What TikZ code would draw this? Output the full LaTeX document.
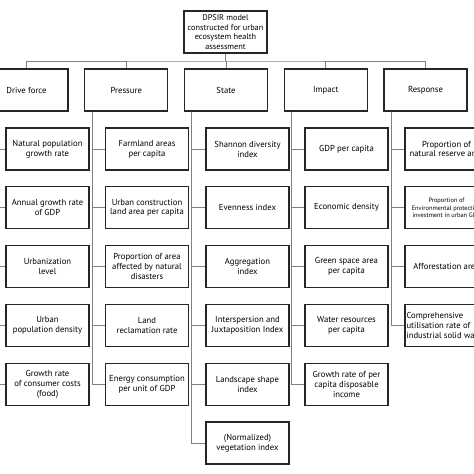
\documentclass[tikz,border=0pt]{standalone}
\usepackage{fontspec}
\setmainfont{PT Sans}
\newcommand{\wideline}[2][c]{\makebox[80bp][#1]{#2}}

\begin{document}
\begin{tikzpicture}[x=1bp,y=-1bp]
    \tikzstyle{box}=[draw=black!85,line width=1.2bp,minimum width=83bp,minimum height=42bp,inner sep=1bp,align=center,font=\fontsize{8.7}{10}\selectfont]
    \tikzstyle{small}=[font=\fontsize{6.4}{7.6}\selectfont]
    \tikzstyle{edge}=[draw,black!50,line width=0.9bp]

    \useasboundingbox (0,0) rectangle (474,474);
    \clip (0,0) rectangle (474,474);

    \node[box,font=\fontsize{8.3}{9.6}\selectfont] (top) at (225.5,32) {DPSIR model\\constructed for urban\\ecosystem health\\assessment};
    \coordinate (bus) at (225.5,61);

    \node[box] (d) at (26.5,90) {Drive force};
    \node[box] (p) at (126.3,90) {Pressure};
    \node[box] (s) at (226,90) {State};
    \node[box] (i) at (325.8,90) {Impact};
    \node[box] (r) at (425.5,90) {Response};

    % drive force
    \node[box] (d1) at (47.5,149) {Natural population\\growth rate};
    \node[box] (d2) at (47.5,207.8) {Annual growth rate\\of GDP};
    \node[box] (d3) at (47.5,266.6) {Urbanization\\level};
    \node[box] (d4) at (47.5,325.4) {Urban\\population density};
    \node[box] (d5) at (47.5,384.2) {Growth rate\\of consumer costs\\(food)};

    % pressure
    \node[box] (p1) at (147,149) {Farmland areas\\per capita};
    \node[box] (p2) at (147,207.8) {Urban construction\\land area per capita};
    \node[box] (p3) at (147,266.6) {Proportion of area\\affected by natural\\disasters};
    \node[box] (p4) at (147,325.4) {Land\\reclamation rate};
    \node[box] (p5) at (147,384.2) {Energy consumption\\per unit of GDP};

    % state
    \node[box] (s1) at (247.5,149) {Shannon diversity\\index};
    \node[box] (s2) at (247.5,207.8) {Evenness index};
    \node[box] (s3) at (247.5,266.6) {Aggregation\\index};
    \node[box] (s4) at (247.5,325.4) {Interspersion and\\Juxtaposition Index};
    \node[box] (s5) at (247.5,384.2) {Landscape shape\\index};
    \node[box] (s6) at (247.5,443) {(Normalized)\\vegetation index};

    % impact
    \node[box] (i1) at (346.5,149) {GDP per capita};
    \node[box] (i2) at (346.5,207.8) {Economic density};
    \node[box] (i3) at (346.5,266.6) {Green space area\\per capita};
    \node[box] (i4) at (346.5,325.4) {Water resources\\per capita};
    \node[box] (i5) at (346.5,384.2) {Growth rate of per\\capita disposable\\income};

    % response
    \node[box] (r1) at (446.5,149) {Proportion of\\\wideline{natural reserve area}};
    \node[box,small] (r2) at (446.5,207.8) {Proportion of\\\wideline{Environmental protection}\\\wideline{investment in urban GDP}};
    \node[box] (r3) at (446.5,266.6) {\wideline{Afforestation area}};
    \node[box] (r4) at (446.5,325.4) {\wideline[l]{Comprehensive}\\\wideline[l]{utilisation rate of}\\\wideline[l]{industrial solid waste}};

    \path[edge] (top) -- (bus);
    \path[edge] (d.north) |- (bus) -| (r.north);
    \path[edge] (p.north) -- (p.north |- bus);
    \path[edge] (s.north) -- (s.north |- bus);
    \path[edge] (i.north) -- (i.north |- bus);

    \path[edge] ([xshift=8bp]d.south west) |- (d1.west);
    \path[edge] ([xshift=8bp]d.south west) |- (d2.west);
    \path[edge] ([xshift=8bp]d.south west) |- (d3.west);
    \path[edge] ([xshift=8bp]d.south west) |- (d4.west);
    \path[edge] ([xshift=8bp]d.south west) |- (d5.west);

    \path[edge] ([xshift=8bp]p.south west) |- (p1.west);
    \path[edge] ([xshift=8bp]p.south west) |- (p2.west);
    \path[edge] ([xshift=8bp]p.south west) |- (p3.west);
    \path[edge] ([xshift=8bp]p.south west) |- (p4.west);
    \path[edge] ([xshift=8bp]p.south west) |- (p5.west);

    \path[edge] ([xshift=8bp]s.south west) |- (s1.west);
    \path[edge] ([xshift=8bp]s.south west) |- (s2.west);
    \path[edge] ([xshift=8bp]s.south west) |- (s3.west);
    \path[edge] ([xshift=8bp]s.south west) |- (s4.west);
    \path[edge] ([xshift=8bp]s.south west) |- (s5.west);
    \path[edge] ([xshift=8bp]s.south west) |- (s6.west);

    \path[edge] ([xshift=8bp]i.south west) |- (i1.west);
    \path[edge] ([xshift=8bp]i.south west) |- (i2.west);
    \path[edge] ([xshift=8bp]i.south west) |- (i3.west);
    \path[edge] ([xshift=8bp]i.south west) |- (i4.west);
    \path[edge] ([xshift=8bp]i.south west) |- (i5.west);

    \path[edge] ([xshift=8bp]r.south west) |- (r1.west);
    \path[edge] ([xshift=8bp]r.south west) |- (r2.west);
    \path[edge] ([xshift=8bp]r.south west) |- (r3.west);
    \path[edge] ([xshift=8bp]r.south west) |- (r4.west);
\end{tikzpicture}
\end{document}
